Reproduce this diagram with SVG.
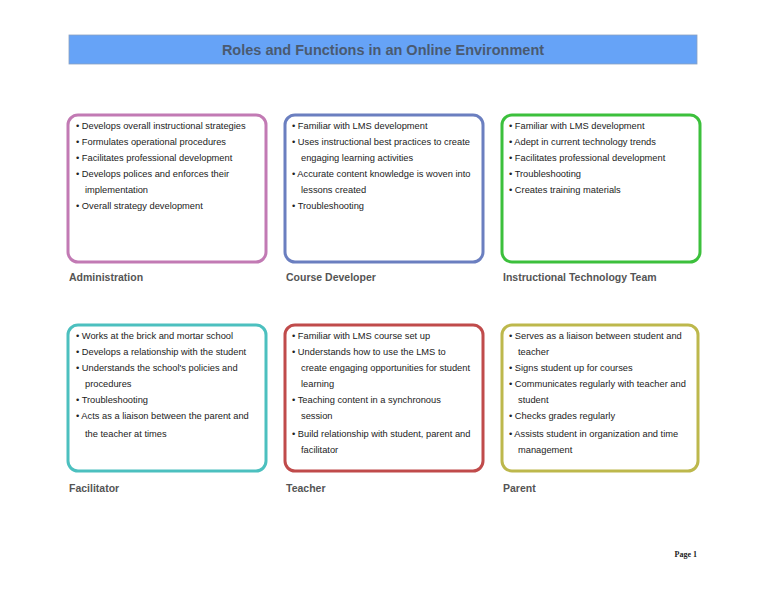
<svg xmlns="http://www.w3.org/2000/svg" width="768" height="594" viewBox="0 0 768 594">
<style>
.box{fill:#fff;stroke-width:3}
.t{font-family:"Liberation Sans",Arial,sans-serif;font-size:9.3px;fill:#222}
.lbl{font-family:"Liberation Sans",Arial,sans-serif;font-size:10.5px;font-weight:bold;fill:#555}
</style>
<rect width="768" height="594" fill="#fff"/>
<g id="title">
<rect x="69" y="35" width="628" height="29" fill="#66a3f7" stroke="#8aa0c0" stroke-width="0.8"/>
<text x="383" y="55" text-anchor="middle" font-family="Liberation Sans,Arial,sans-serif" font-size="14.5" font-weight="bold" fill="#4a5a70">Roles and Functions in an Online Environment</text>
</g>
<g id="administration">
<rect class="box" x="68" y="115" width="198" height="147" rx="10" stroke="#c27ab4"/>
<text class="t"><tspan x="76" y="129">• Develops overall instructional strategies</tspan><tspan x="76" y="145">• Formulates operational procedures</tspan><tspan x="76" y="161">• Facilitates professional development</tspan><tspan x="76" y="177">• Develops polices and enforces their</tspan><tspan x="85" y="193">implementation</tspan><tspan x="76" y="209">• Overall strategy development</tspan></text>
<text class="lbl" x="69" y="281">Administration</text>
</g>
<g id="course-developer">
<rect class="box" x="285" y="115" width="198" height="147" rx="10" stroke="#6b7fc0"/>
<text class="t"><tspan x="292" y="129">• Familiar with LMS development</tspan><tspan x="292" y="145">• Uses instructional best practices to create</tspan><tspan x="301" y="161">engaging learning activities</tspan><tspan x="292" y="177">• Accurate content knowledge is woven into</tspan><tspan x="301" y="193">lessons created</tspan><tspan x="292" y="209">• Troubleshooting</tspan></text>
<text class="lbl" x="286" y="281">Course Developer</text>
</g>
<g id="it-team">
<rect class="box" x="502" y="115" width="198" height="147" rx="10" stroke="#3cc03c"/>
<text class="t"><tspan x="509" y="129">• Familiar with LMS development</tspan><tspan x="509" y="145">• Adept in current technology trends</tspan><tspan x="509" y="161">• Facilitates professional development</tspan><tspan x="509" y="177">• Troubleshooting</tspan><tspan x="509" y="193">• Creates training materials</tspan></text>
<text class="lbl" x="503" y="281">Instructional Technology Team</text>
</g>
<g id="facilitator">
<rect class="box" x="68" y="325" width="198" height="146" rx="10" stroke="#4cc0bf"/>
<text class="t"><tspan x="76" y="339">• Works at the brick and mortar school</tspan><tspan x="76" y="355">• Develops a relationship with the student</tspan><tspan x="76" y="371">• Understands the school's policies and</tspan><tspan x="85" y="387">procedures</tspan><tspan x="76" y="403">• Troubleshooting</tspan><tspan x="76" y="419">• Acts as a liaison between the parent and</tspan><tspan x="85" y="437">the teacher at times</tspan></text>
<text class="lbl" x="69" y="492">Facilitator</text>
</g>
<g id="teacher">
<rect class="box" x="285" y="325" width="198" height="146" rx="10" stroke="#c04b4b"/>
<text class="t"><tspan x="292" y="339">• Familiar with LMS course set up</tspan><tspan x="292" y="355">• Understands how to use the LMS to</tspan><tspan x="301" y="371">create engaging opportunities for student</tspan><tspan x="301" y="387">learning</tspan><tspan x="292" y="403">• Teaching content in a synchronous</tspan><tspan x="301" y="419">session</tspan><tspan x="292" y="437">• Build relationship with student, parent and</tspan><tspan x="301" y="453">facilitator</tspan></text>
<text class="lbl" x="286" y="492">Teacher</text>
</g>
<g id="parent">
<rect class="box" x="502" y="325" width="196" height="146" rx="10" stroke="#bdb84c"/>
<text class="t"><tspan x="509" y="339">• Serves as a liaison between student and</tspan><tspan x="518" y="355">teacher</tspan><tspan x="509" y="371">• Signs student up for courses</tspan><tspan x="509" y="387">• Communicates regularly with teacher and</tspan><tspan x="518" y="403">student</tspan><tspan x="509" y="419">• Checks grades regularly</tspan><tspan x="509" y="437">• Assists student in organization and time</tspan><tspan x="518" y="453">management</tspan></text>
<text class="lbl" x="503" y="492">Parent</text>
</g>
<g id="connectors"></g>
<text x="697" y="557" text-anchor="end" font-family="Liberation Serif,serif" font-size="8" font-weight="bold" fill="#222">Page 1</text>
</svg>
